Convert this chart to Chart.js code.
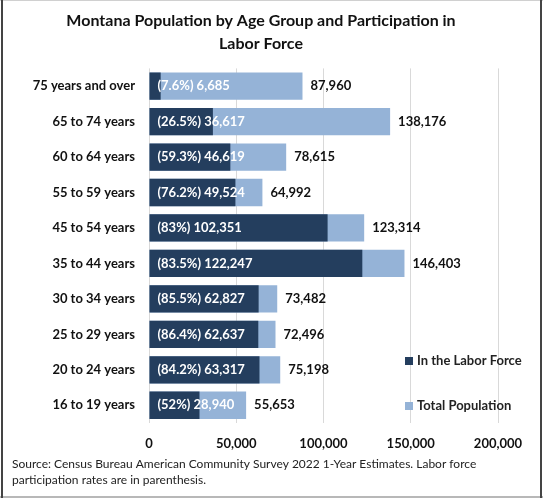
<!DOCTYPE html>
<html>
<head>
<meta charset="utf-8">
<script src="https://cdn.jsdelivr.net/npm/chart.js@4"></script>
<style>
body{margin:0;background:#fff;}
#wrap{width:543px;height:500px;}
</style>
</head>
<body>
<div id="wrap"><canvas id="popChart" width="543" height="500"></canvas></div>
<script>
// Montana - population by age group and labor force

const categories = [
"75 years and over","65 to 74 years","60 to 64 years","55 to 59 years","45 to 54 years",
"35 to 44 years","30 to 34 years","25 to 29 years","20 to 24 years","16 to 19 years"
];

const laborForce = [6685,36617,46619,49524,102351,122247,62827,62637,63317,28940];

const totalPop = [87960,138176,78615,64992,123314,146403,73482,72496,75198,55653];

const rates = ["7.6","26.5","59.3","76.2","83","83.5","85.5","86.4","84.2","52"];

const xTicks = [0,50000,100000,150000,200000];

const seriesNames = ["In the Labor Force","Total Population"];

const darkBlue = "#243e5e";
const lightBlue = "#95b3d7";
const fontName = "Lato, 'Open Sans', sans-serif";

function fmt(n){
  return n.toLocaleString("en-US");
}

// white background + frame
const framePlugin = {
  id:"frame",
  beforeDraw(chart){
    let ctx = chart.ctx;
    ctx.save();
    ctx.fillStyle="#fff";
    ctx.fillRect(0,0,chart.width,chart.height);
    ctx.restore();
  },
  afterDraw(chart){
    let ctx = chart.ctx;
    ctx.save();
    ctx.fillStyle="#d0d0d0";
    ctx.fillRect(0,0,543,1);
    ctx.fillStyle="#b8b8b8";
    ctx.fillRect(0,496,543,2);
    ctx.fillStyle="#444";
    ctx.fillRect(1,0,2,498);
    ctx.fillRect(540,0,2,498);

    // source note
    ctx.fillStyle="#222";
    ctx.font="12px "+fontName;
    ctx.textBaseline="middle";
    ctx.textAlign="left";
    ctx.fillText("Source: Census Bureau American Community Survey 2022 1-Year Estimates. Labor force",12,464);
    ctx.fillText("participation rates are in parenthesis.",12,480);

    // legend inside plot
    let ly = [361,406];
    let cols = [darkBlue,lightBlue];
    ctx.font="bold 13px "+fontName;
    for(let i=0;i<2;i++){
      ctx.fillStyle=cols[i];
      ctx.fillRect(405,ly[i]-4,8,8);
      ctx.fillStyle="#222";
      ctx.fillText(seriesNames[i],417,ly[i]);
    }
    ctx.restore();
  }
};

// value labels
const labelPlugin = {
  id:"barLabels",
  afterDatasetsDraw(chart){
    let ctx = chart.ctx;
    ctx.save();
    ctx.font="bold 13px "+fontName;
    ctx.textBaseline="middle";
    ctx.textAlign="left";
    let m0 = chart.getDatasetMeta(0);
    let m1 = chart.getDatasetMeta(1);
    m1.data.forEach((bar,i)=>{
      ctx.fillStyle="#111";
      ctx.fillText(fmt(totalPop[i]),bar.x+8,bar.y);
    });
    m0.data.forEach((bar,i)=>{
      ctx.fillStyle="#fff";
      ctx.fillText("("+rates[i]+"%) "+fmt(laborForce[i]),bar.base+8,bar.y);
    });
    ctx.restore();
  }
};

new Chart(document.getElementById("popChart"),{
  type:"bar",
  data:{
    labels:categories,
    datasets:[
      {label:seriesNames[0],data:laborForce,backgroundColor:darkBlue,grouped:false,barPercentage:0.77,categoryPercentage:1},
      {label:seriesNames[1],data:totalPop,backgroundColor:lightBlue,grouped:false,barPercentage:0.77,categoryPercentage:1}
    ]
  },
  options:{
    indexAxis:"y",
    responsive:false,
    animation:false,
    devicePixelRatio:1,
    layout:{padding:{left:24,right:45,top:0,bottom:48}},
    plugins:{
      legend:{display:false},
      tooltip:{enabled:false},
      title:{
        display:true,
        text:["Montana Population by Age Group and Participation in","Labor Force"],
        color:"#111",
        font:{family:fontName,size:16,weight:"bold",lineHeight:1.45},
        padding:{top:9,bottom:13}
      }
    },
    scales:{
      x:{
        min:0,
        max:200000,
        afterBuildTicks(scale){
          scale.ticks = xTicks.map(v=>({value:v}));
        },
        afterFit(scale){
          scale.height = 29;
        },
        grid:{color:"#d9d9d9",drawTicks:false},
        border:{display:false},
        ticks:{
          padding:13,
          color:"#111",
          font:{family:fontName,size:13,weight:"bold"},
          callback:v=>fmt(v)
        }
      },
      y:{
        afterFit(scale){
          scale.width = 125;
        },
        grid:{display:false,drawTicks:false},
        border:{display:false},
        ticks:{
          padding:14,
          color:"#111",
          font:{family:fontName,size:13,weight:"bold"}
        }
      }
    }
  },
  plugins:[framePlugin,labelPlugin]
});
</script>
</body>
</html>
